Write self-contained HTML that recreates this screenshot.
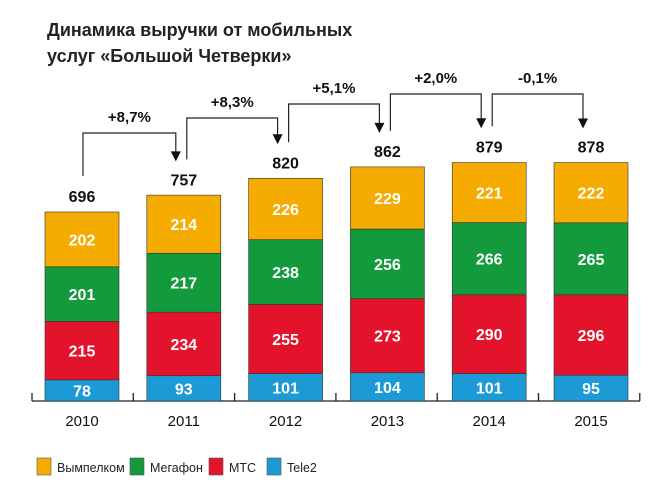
<!DOCTYPE html>
<html><head><meta charset="utf-8"><style>
body{margin:0;background:#fff;width:670px;height:498px;overflow:hidden;font-family:"Liberation Sans","DejaVu Sans",sans-serif}
svg text{font-family:"Liberation Sans","DejaVu Sans",sans-serif}
</style></head><body>
<svg id="c" width="670" height="498">
<text x="47" y="36" font-size="18" font-weight="bold" fill="#222">Динамика выручки от мобильных</text>
<text x="47" y="62" font-size="18" font-weight="bold" fill="#222">услуг «Большой Четверки»</text>
</svg>
<script>
const years=["2010","2011","2012","2013","2014","2015"];
const tele2=[78,93,101,104,101,95];
const mts=[215,234,255,273,290,296];
const megafon=[201,217,238,256,266,265];
const beeline=[202,214,226,229,221,222];
const totals=[696,757,820,862,879,878];
const growth=["+8,7%","+8,3%","+5,1%","+2,0%","-0,1%"];
const series=[["tele2",tele2,"#1b9ad6"],["mts",mts,"#e3132c"],["megafon",megafon,"#139a3c"],["beeline",beeline,"#f6ab00"]];
const svg=document.getElementById('c');const NS="http://www.w3.org/2000/svg";
function mk(t,a,p){const e=document.createElementNS(NS,t);for(const k in a)e.setAttribute(k,a[k]);(p||svg).appendChild(e);return e;}
const base=401,k=0.2716,bw=74;
const xL=i=>45+i*101.8;const yS=v=>v*k;
mk('line',{x1:32,y1:base,x2:640,y2:base,stroke:'#222','stroke-width':1.3});
for(let i=0;i<=6;i++){const x=32+i*101.3;const t=mk('line',{x1:x,y1:base-8,x2:x,y2:base,stroke:'#222','stroke-width':1.3});}
const tops=[];
years.forEach((y,i)=>{
 let acc=0;const x=xL(i);
 series.forEach(s=>{const v=s[1][i];const h=yS(v);const yy=base-acc-h;
  const r=mk('rect',{x:x,y:yy,width:bw,height:h,fill:s[2],stroke:'#333','stroke-width':0.6});
  
  
  const t=mk('text',{x:x+bw/2,y:yy+h/2+6,'text-anchor':'middle','font-size':16,'font-weight':'bold',fill:'#fff'});t.textContent=v;
  
  
  acc+=h;});
 const top=base-yS(totals[i]);tops.push(top);
 const tt=mk('text',{x:x+bw/2,y:top-10,'text-anchor':'middle','font-size':16,'font-weight':'bold',fill:'#111'});tt.textContent=totals[i];
 
 
 const yl=mk('text',{x:x+bw/2,y:base+25,'text-anchor':'middle','font-size':15,fill:'#111'});yl.textContent=y;
 
 
});
const hy=[133,118,104,94,94];
growth.forEach((g,i)=>{
 const x1=xL(i)+bw/2+(i==0?1:3),x2=xL(i+1)+bw/2-8;const y0=tops[i]-36,y1=tops[i+1]-34;
 const p=mk('polyline',{points:`${x1},${y0} ${x1},${hy[i]} ${x2},${hy[i]} ${x2},${y1-9}`,fill:'none',stroke:'#222','stroke-width':1.2});
 
 
 mk('polygon',{points:`${x2-5},${y1-10} ${x2+5},${y1-10} ${x2},${y1}`,fill:'#111'});
 const t=mk('text',{x:(x1+x2)/2,y:hy[i]-11,'text-anchor':'middle','font-size':15,'font-weight':'bold',fill:'#111'});t.textContent=g;
 
 
});
const leg=[["Вымпелком","#f6ab00",37],["Мегафон","#139a3c",130],["МТС","#e3132c",209],["Tele2","#1b9ad6",267]];
leg.forEach(l=>{const r=mk('rect',{x:l[2],y:458,width:14,height:17,fill:l[1],stroke:'#555','stroke-width':0.6});
 
 
 const t=mk('text',{x:l[2]+20,y:472,'font-size':12.5,fill:'#222'});t.textContent=l[0];
 
 });
</script>
</body></html>
